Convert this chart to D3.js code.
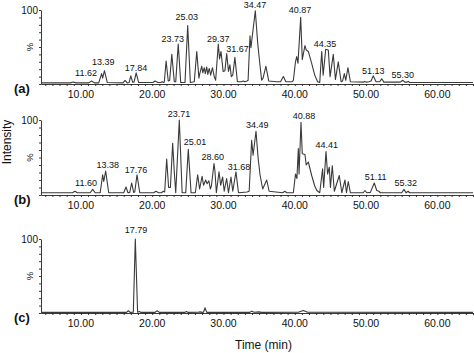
<!DOCTYPE html>
<html lang="en">
  <head>
    <script src="https://d3js.org/d3.v7.min.js"></script>
    <style>
      body { margin: 0; background: #fff; }
      text { font-family: "Liberation Sans", Arial, sans-serif; fill: #111; }
    </style>
  </head>
  <body>
    <script>
      // chromatogram traces, [time (min), relative intensity %]
      var traceA = [
        [4.4, 1.5], [8.5, 1.5], [8.93, 2.8], [9.3, 1.5], [11.1, 1.5], [11.5, 4], [11.9, 1.5],
        [12.5, 1.5], [12.9, 14], [13.05, 8], [13.3, 18], [13.7, 2], [15.9, 1.5], [16.2, 5], [16.5, 1.5],
        [16.75, 2], [17.0, 11], [17.25, 2.5], [17.45, 2.5], [17.75, 15], [18.1, 2], [20.1, 2], [20.4, 4],
        [20.8, 2], [21.2, 2], [21.4, 3], [21.6, 2], [21.7, 3], [21.95, 31], [22.25, 4], [22.45, 5],
        [22.75, 40], [23.1, 3], [23.3, 3], [23.65, 54], [24.0, 2], [24.6, 2], [24.98, 79], [25.35, 2],
        [25.9, 3], [26.25, 44], [26.55, 8], [26.7, 15], [26.95, 24], [27.1, 15], [27.3, 22], [27.45, 14],
        [27.65, 23], [27.8, 13], [28.0, 21], [28.2, 12], [28.45, 22], [28.7, 10], [28.9, 5], [29.27, 54],
        [29.45, 34], [29.65, 44], [29.95, 17], [30.2, 18], [30.45, 41], [30.7, 17], [30.9, 26], [31.1, 10],
        [31.3, 12], [31.6, 36], [31.95, 3], [32.5, 3], [32.8, 4], [33.0, 3], [33.3, 4], [33.45, 5],
        [33.72, 65], [33.85, 49], [34.46, 99], [34.8, 55], [35.1, 27], [35.35, 5], [35.55, 8], [35.95, 24],
        [36.35, 4], [37.5, 3], [38.0, 3], [38.4, 10], [38.75, 3], [39.6, 3], [39.8, 5], [40.1, 30],
        [40.27, 37], [40.45, 28], [40.83, 90], [41.05, 33], [41.43, 52], [41.6, 46], [41.9, 44], [42.37, 28],
        [42.8, 12], [43.2, 3], [43.5, 2], [43.78, 44], [43.98, 12], [44.34, 47], [44.7, 46], [44.95, 10],
        [45.4, 40], [45.7, 6], [46.1, 30], [46.5, 3], [46.7, 4], [46.95, 14], [47.15, 5], [47.46, 22],
        [47.8, 3], [49.6, 2.5], [49.8, 3.5], [50.1, 2.5], [50.4, 3], [50.7, 4], [51.0, 11], [51.4, 3],
        [51.9, 3], [52.2, 7], [52.5, 2.5], [54.8, 2.5], [55.13, 5], [55.45, 2.5], [55.7, 2.5], [55.9, 3.5],
        [56.1, 2], [65, 2]
      ];
      var traceB = [
        [4.4, 3], [8.8, 3], [9.17, 5], [9.5, 3], [11.3, 3], [11.65, 7.5], [12.0, 3], [12.7, 3],
        [13.05, 27], [13.2, 18], [13.47, 32], [13.9, 3], [16.0, 3], [16.32, 10.7], [16.6, 3], [16.85, 3.5],
        [17.12, 16], [17.4, 3.5], [17.55, 4], [17.87, 27], [18.25, 3], [20.2, 3], [20.53, 5], [20.9, 3],
        [21.3, 3], [21.56, 5], [21.75, 4], [22.03, 48], [22.3, 10], [22.55, 10], [22.87, 69], [23.1, 30],
        [23.3, 3], [23.8, 100], [24.2, 3], [24.7, 3], [25.06, 61], [25.45, 3], [26.05, 3], [26.38, 27],
        [26.65, 8], [27.0, 25], [27.2, 13], [27.5, 20], [27.7, 15], [27.95, 19], [28.15, 8], [28.3, 12],
        [28.67, 42], [28.8, 32], [29.0, 3], [29.37, 31], [29.6, 13], [29.88, 24], [30.1, 5], [30.44, 22],
        [30.7, 3], [31.05, 24], [31.3, 5], [31.75, 31], [32.1, 3], [33.3, 4], [33.6, 5], [33.95, 73],
        [34.15, 53], [34.56, 85], [34.85, 50], [35.12, 27], [35.5, 8], [36.06, 20], [36.4, 5], [38.3, 3],
        [38.6, 5], [38.9, 3], [39.8, 3], [40.1, 28], [40.3, 22], [40.5, 62], [40.6, 28], [40.87, 97],
        [41.05, 55], [41.43, 54], [41.6, 40], [41.9, 44], [42.37, 26], [42.8, 12], [43.1, 6], [43.5, 3],
        [43.9, 35], [44.05, 10], [44.38, 58], [44.6, 28], [44.84, 37], [45.0, 10], [45.26, 39], [45.55, 5],
        [46.24, 26], [46.6, 3], [47.04, 20], [47.25, 3], [47.5, 18], [47.8, 3], [49.6, 3], [49.85, 6],
        [50.1, 3], [50.6, 3.5], [51.15, 16], [51.5, 6], [51.8, 5], [52.0, 3], [55.0, 3], [55.32, 7.5],
        [55.6, 3], [55.9, 5], [56.1, 3], [65, 3]
      ];
      var traceC = [
        [4.4, 0.8], [16.4, 0.8], [16.65, 3], [16.9, 0.8], [17.35, 1], [17.63, 100], [17.95, 1], [18.2, 2],
        [18.4, 0.8], [20.4, 0.8], [20.7, 3], [21.0, 0.8], [24.6, 0.8], [24.8, 2], [25.0, 0.8], [26.5, 1],
        [26.7, 1.5], [27.0, 0.8], [27.2, 1], [27.4, 7], [27.65, 0.8], [33.7, 0.8], [33.95, 2.5], [34.3, 1],
        [35.0, 1.5], [35.3, 0.8], [40.5, 1], [41.2, 3.5], [41.8, 1], [65, 0.8]
      ];

      // peak labels: [text, time, intensity of the label baseline]
      var labelsA = [
        ["11.62", 10.71, 11], ["13.39", 13.14, 26], ["17.84", 17.73, 18], ["23.73", 22.87, 57],
        ["25.03", 24.84, 87], ["29.37", 29.27, 57], ["31.67", 31.96, 43], ["34.47", 34.42, 103],
        ["40.87", 40.73, 96], ["44.35", 44.24, 50], ["51.13", 51.01, 13.5], ["55.30", 55.14, 8.5]
      ];
      var labelsB = [
        ["11.60", 10.71, 11.6], ["13.38", 13.76, 36], ["17.76", 17.73, 30], ["23.71", 23.76, 104],
        ["25.01", 26.0, 67], ["28.60", 28.48, 47], ["31.68", 32.17, 34], ["34.49", 34.74, 90],
        ["40.88", 41.29, 101], ["44.41", 44.47, 63], ["51.11", 51.35, 19.6], ["55.32", 55.56, 11.6]
      ];
      var labelsC = [["17.79", 17.73, 108]];

      var majorTicks = [10, 20, 30, 40, 50, 60];

      var width = 474,
        height = 353;

      var svg = d3
        .select("body")
        .append("svg")
        .attr("width", width)
        .attr("height", height);

      var x = d3.scaleLinear().domain([4.4, 65]).range([41, 473]);

      var panels = [
        { name: "(a)", trace: traceA, labels: labelsA, top: 10, bottom: 84 },
        { name: "(b)", trace: traceB, labels: labelsB, top: 120, bottom: 195 },
        { name: "(c)", trace: traceC, labels: labelsC, top: 239, bottom: 313 }
      ];

      panels.forEach(function (p) {
        var y = d3.scaleLinear().domain([0, 100]).range([p.bottom, p.top]);
        var g = svg.append("g");

        // y axis with small ticks
        g.append("g")
          .attr("transform", "translate(41,0)")
          .call(d3.axisLeft(y).tickValues(d3.range(0, 101, 10)).tickSize(2).tickSizeOuter(0).tickFormat(""))
          .call(function (a) {
            a.selectAll("line, path").attr("stroke", "#222").attr("stroke-width", 0.9);
          });

        // x axis, minor ticks every minute
        g.append("g")
          .attr("transform", "translate(0," + p.bottom + ")")
          .call(d3.axisBottom(x).tickValues(d3.range(5, 65.1, 1)).tickSize(2).tickSizeOuter(0).tickFormat(""))
          .call(function (a) {
            a.selectAll("line, path").attr("stroke", "#222").attr("stroke-width", 0.9);
          });

        g.selectAll(".tl")
          .data(majorTicks)
          .join("text")
          .attr("x", function (d) { return x(d); })
          .attr("y", p.bottom + 13.5)
          .attr("text-anchor", "middle")
          .style("font-size", "10.5px")
          .text(function (d) { return d3.format(".2f")(d); });

        g.append("text")
          .attr("x", 38)
          .attr("y", p.top + 4)
          .attr("text-anchor", "end")
          .style("font-size", "10px")
          .text("100");

        g.append("text")
          .attr("transform", "translate(33," + (p.top + p.bottom) / 2 + ") rotate(-90)")
          .attr("text-anchor", "middle")
          .style("font-size", "9.5px")
          .text("%");

        g.append("text")
          .attr("x", 14)
          .attr("y", p.bottom + 9)
          .style("font-size", "13px")
          .style("font-weight", "bold")
          .text(p.name);

        // the trace
        g.append("path")
          .datum(p.trace)
          .attr("fill", "none")
          .attr("stroke", "#3a3a3a")
          .attr("stroke-width", 1.1)
          .attr("stroke-linejoin", "round")
          .attr("d", d3.line()
            .x(function (d) { return x(d[0]); })
            .y(function (d) { return y(d[1]); }));

        g.selectAll(".pl")
          .data(p.labels)
          .join("text")
          .attr("x", function (d) { return x(d[1]); })
          .attr("y", function (d) { return y(d[2]); })
          .attr("text-anchor", "middle")
          .style("font-size", "9px")
          .text(function (d) { return d[0]; });
      });

      svg.append("text")
        .attr("transform", "translate(11,142) rotate(-90)")
        .attr("text-anchor", "middle")
        .style("font-size", "12px")
        .text("Intensity");

      svg.append("text")
        .attr("x", 235)
        .attr("y", 349)
        .style("font-size", "12px")
        .text("Time (min)");
    </script>
  </body>
</html>
